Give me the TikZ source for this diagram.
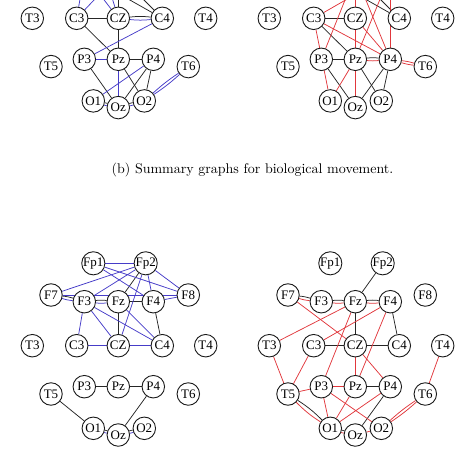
\documentclass[tikz,border=0pt]{standalone}
\usepackage{fontspec}
\newfontfamily\nodefont{Liberation Serif}
\pgfdeclarelayer{bg}
\pgfsetlayers{bg,main}
\definecolor{eblue}{RGB}{70,60,200}
\definecolor{ered}{RGB}{225,55,60}
\tikzset{
  eeg/.style={circle,draw=black!90,line width=0.9pt,fill=white,minimum size=22.5pt,inner sep=0pt,font=\nodefont\fontsize{13}{14}\selectfont},
  bk/.style={draw=black!85,line width=0.75pt},
  bl/.style={draw=eblue,line width=0.75pt},
  rd/.style={draw=ered,line width=0.75pt},
}
\def\posF{Fp1/93.3/263.3, Fp2/145.7/263.3, F7/51/295, F8/188.3/295, F3/84.3/301.7, Fz/118.3/301.7, F4/153.3/301.7}
\def\posR{T3/32.3/345.7, C3/76.7/345.7, CZ/118.3/345.7, C4/162.3/345.7, T4/205.7/345.7, P3/84.3/386.7, Pz/118.3/386.7, P4/153.3/386.7, T5/51/394, T6/188.3/394, O1/93.3/428.3, Oz/118.3/435, O2/144.3/428.3}
\begin{document}
\begin{tikzpicture}[x=1pt,y=-1pt]
\useasboundingbox (0,0) rectangle (474,474);
% nodes
\foreach \n/\x/\y in \posF {
  \node[eeg] (a\n) at (\x,\y) {\n};
  \node[eeg] (b\n) at (\x+237,\y) {\n};
  \coordinate (c\n) at (\x,\y-327.4);
  \coordinate (d\n) at (\x+237,\y-327.4);
}
\foreach \n/\x/\y in \posR {
  \node[eeg] (a\n) at (\x,\y) {\n};
  \node[eeg] (b\n) at (\x+237,\y) {\n};
  \node[eeg] (c\n) at (\x,\y-327.4) {\n};
  \node[eeg] (d\n) at (\x+237,\y-327.4) {\n};
}
\node (cap) at (252.5,173.3) [anchor=base,inner sep=0pt] {\resizebox{281.6pt}{!}{(b) Summary graphs for biological movement.}};
\begin{pgfonlayer}{bg}
\clip (0,0) rectangle (474,474);
% ---------- bottom left (a)
\foreach \u/\v in {Fp2/Fz, Fz/F4, Fz/CZ, F4/C4, P3/Pz, Pz/P4, T5/O1, P4/Oz}
  \draw[bk] (a\u) -- (a\v);
\foreach \u/\v in {F7/F3, F3/Fz, O1/Oz, Oz/O2}
  {\draw[bk] (a\u) to[bend left=6] (a\v); \draw[bl] (a\u) to[bend right=6] (a\v);}
\foreach \u/\v in {Fp1/Fp2, Fp1/F4, Fp1/F8, Fp2/F7, Fp2/F3, Fp2/F4, Fp2/F8, Fp2/CZ, F7/F8, F4/F8, F3/C3, F3/CZ, F3/C4, Fz/C4, C3/CZ, CZ/C4}
  \draw[bl] (a\u) -- (a\v);
% ---------- bottom right (b)
\foreach \u/\v in {Fp2/Fz, Fz/CZ, F4/C4, C3/CZ, CZ/C4, Pz/P4, P4/Oz}
  \draw[bk] (b\u) -- (b\v);
\foreach \u/\v in {F7/F3, F3/Fz, Fz/F4, T5/O1, O1/Oz}
  {\draw[bk] (b\u) to[bend left=6] (b\v); \draw[rd] (b\u) to[bend right=6] (b\v);}
\foreach \u/\v in {T6/O2}
  {\draw[rd] (b\u) to[bend left=4] (b\v); \draw[rd] (b\u) to[bend right=4] (b\v);}
\foreach \u/\v in {F7/CZ, T3/Fz, F4/C3, Fz/P3, F4/Pz, T3/T5, C3/T5, CZ/Pz, CZ/P4, T5/P3, P3/Pz, P3/O1, P3/O2, Pz/O1, P4/O1, T4/T6, Oz/O2}
  \draw[rd] (b\u) -- (b\v);
% ---------- top left (c)
\foreach \u/\v in {C3/CZ, C3/Pz, CZ/Pz, Pz/P4, P3/Oz, Pz/O2, P4/Oz, P4/O2, Fz/CZ, F3/C4, Fz/C4}
  \draw[bk] (c\u) -- (c\v);
\foreach \u/\v in {CZ/C4, O1/Oz, Oz/O2}
  {\draw[bk] (c\u) to[bend left=6] (c\v); \draw[bl] (c\u) to[bend right=6] (c\v);}
\foreach \u/\v in {T6/O2}
  {\draw[bl] (c\u) to[bend left=4] (c\v); \draw[bl] (c\u) to[bend right=4] (c\v);}
\foreach \u/\v in {F3/C3, Fz/C3, F3/CZ, Fp1/CZ, C4/P3, P3/Pz, Pz/Oz, P4/O1}
  \draw[bl] (c\u) -- (c\v);
% ---------- top right (d)
\foreach \u/\v in {C3/CZ, C3/Pz, P3/Pz, P3/Oz, Pz/O2, P4/Oz, P4/O2, F3/C4, Fz/C4}
  \draw[bk] (d\u) -- (d\v);
\foreach \u/\v in {Pz/P4}
  {\draw[bk] (d\u) to[bend left=6] (d\v); \draw[rd] (d\u) to[bend right=6] (d\v);}
\foreach \u/\v in {P4/T6}
  {\draw[rd] (d\u) to[bend left=5] (d\v); \draw[rd] (d\u) to[bend right=5] (d\v);}
\foreach \u/\v in {F4/C3, C3/O1, C3/P4, Fz/P3, CZ/Pz, Pz/Oz, Pz/O1, CZ/P4, F4/Pz, Fz/P4, F4/P4, Fz/CZ}
  \draw[rd] (d\u) -- (d\v);
\end{pgfonlayer}
\end{tikzpicture}
\end{document}
